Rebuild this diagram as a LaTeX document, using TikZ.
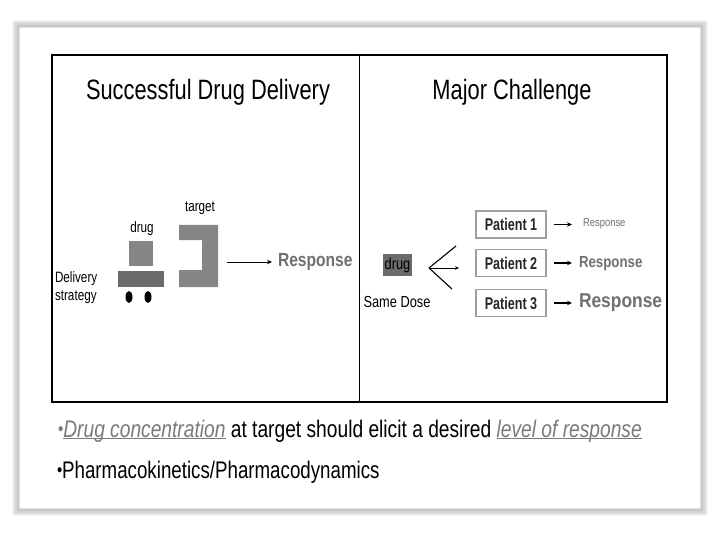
\documentclass[tikz,border=0pt]{standalone}
\usepackage{fontspec}
\setmainfont{Liberation Sans}
\usetikzlibrary{arrows.meta}
\definecolor{shapegray}{HTML}{858585}
\definecolor{darkgray2}{HTML}{6B6B6B}
\definecolor{resp}{HTML}{707070}
\definecolor{undl}{HTML}{7A7A7A}
\newcommand\nar[2][0.87]{\scalebox{#1}[1]{#2}}
\newcommand\ulx[1]{\setbox0\hbox{#1}\rlap{\rule[-2.2pt]{\wd0}{1.4pt}}\box0}
\newcommand\bul{\raisebox{2pt}{\fontsize{19}{19}\selectfont•}}
\begin{document}
\begin{tikzpicture}[x=1pt,y=-1pt,
  txt/.style={inner sep=0pt, outer sep=0pt},
  arr/.style={-{Stealth[length=5pt,width=4.5pt]}, line width=1.1pt},
  pbox/.style={draw=gray!75, line width=1.3pt, minimum width=70pt, minimum height=27pt, inner sep=0pt, font=\fontsize{17}{17}\selectfont\bfseries, text=black!85}]
\useasboundingbox (0,0) rectangle (720,540);
\fill[white] (0,0) rectangle (720,540);
% card shadow
\foreach \i/\o in {7/0.03,6/0.05,5/0.07,4/0.08,3/0.10,2/0.11,1/0.12}{
  \draw[black, opacity=\o, line width=1.2pt] (20-\i,28-\i) rectangle (700+\i,508+\i);
}
\fill[white] (20,28) rectangle (700,508);
% main box
\node[draw=black, line width=2pt, minimum width=615pt, minimum height=347pt, inner sep=0pt] (frame) at (359.5,228.5) {};
\draw[line width=1.5pt] (frame.north) -- (frame.south);
% titles
\node[txt, font=\fontsize{28}{28}\selectfont] (t1) at (208,92) {\nar[0.78]{Successful Drug Delivery}};
\node[txt, font=\fontsize{28}{28}\selectfont] (t2) at (512,92) {\nar[0.78]{Major Challenge}};
% left panel
\node[txt, font=\fontsize{15}{15}\selectfont] (target) at (200,208) {\nar[0.78]{target}};
\node[txt, font=\fontsize{15}{15}\selectfont] (druglab) at (142,229) {\nar[0.78]{drug}};
\node[fill=shapegray, minimum width=24pt, minimum height=25pt, inner sep=0pt] (drugsq) at (141,253.5) {};
\node[fill=darkgray2, minimum width=46pt, minimum height=16pt, inner sep=0pt] (platform) at (141,279) {};
\fill[black] (129,297) ellipse [x radius=3.5pt, y radius=6pt];
\fill[black] (148,297) ellipse [x radius=3.5pt, y radius=6pt];
\node[txt, font=\fontsize{15}{18.5}\selectfont, align=left, anchor=west] (deliv) at (55,287.5) {\nar[0.78]{Delivery}\\\nar[0.78]{strategy}};
\fill[shapegray] (179,225) -- (218,225) -- (218,287) -- (179,287) -- (179,270) -- (202,270) -- (202,240) -- (179,240) -- cycle;
\coordinate (tgtR) at (218,262);
\node[txt, anchor=west, font=\fontsize{19}{19}\selectfont\bfseries, text=resp] (resp0) at (278,262) {\nar[0.82]{Response}};
\draw[arr, line width=0.9pt, shorten <=9pt, shorten >=6pt] (tgtR) -- (resp0.west);
% right panel
\node[fill=darkgray2, minimum width=29pt, minimum height=22pt, inner sep=0pt, font=\fontsize{16}{16}\selectfont] (drugbox) at (397.5,265) {\nar[0.8]{drug}};
\node[txt, font=\fontsize{16}{16}\selectfont] (same) at (397,302) {\nar[0.8]{Same Dose}};
\coordinate (fan) at (429,268);
\coordinate (fanA) at (456,246);
\coordinate (fanC) at (452,289);
\coordinate (fanB) at (459,268);
\draw[line width=1.1pt] (fan) -- (fanA);
\draw[line width=1.1pt] (fan) -- (fanC);
\draw[-{Stealth[length=4pt,width=3.5pt]}, line width=0.9pt] (fan) -- (fanB);
\node[pbox] (p1) at (511,224.5) {\nar[0.74]{Patient 1}};
\node[pbox] (p2) at (511,263) {\nar[0.74]{Patient 2}};
\node[pbox] (p3) at (511,303) {\nar[0.74]{Patient 3}};
\node[txt, anchor=west, font=\fontsize{11.5}{11.5}\selectfont, text=resp] (r1) at (583,224) {\nar[0.82]{Response}};
\node[txt, anchor=west, font=\fontsize{16}{16}\selectfont\bfseries, text=resp] (r2) at (579,264) {\nar[0.83]{Response}};
\node[txt, anchor=west, font=\fontsize{20}{20}\selectfont\bfseries, text=resp] (r3) at (579,303) {\nar[0.87]{Response}};
\draw[arr] ([xshift=7pt]p1.east) -- ([xshift=-11pt]r1.west |- p1.east);
\draw[arr] ([xshift=7pt]p2.east) -- ([xshift=-7pt]r2.west |- p2.east);
\draw[arr] ([xshift=7pt]p3.east) -- ([xshift=-7pt]r3.west |- p3.east);
% bottom text
\node[txt, anchor=west, font=\fontsize{24}{24}\selectfont] (b1) at (58,431) {\nar[0.80]{\textcolor{undl}{\bul\ulx{\textit{Drug concentration}}} at target should elicit a desired \textcolor{undl}{\ulx{\textit{level of response}}}}};
\node[txt, anchor=west, font=\fontsize{24}{24}\selectfont] (b2) at (57,472) {\nar[0.78]{\bul Pharmacokinetics/Pharmacodynamics}};
\end{tikzpicture}
\end{document}
